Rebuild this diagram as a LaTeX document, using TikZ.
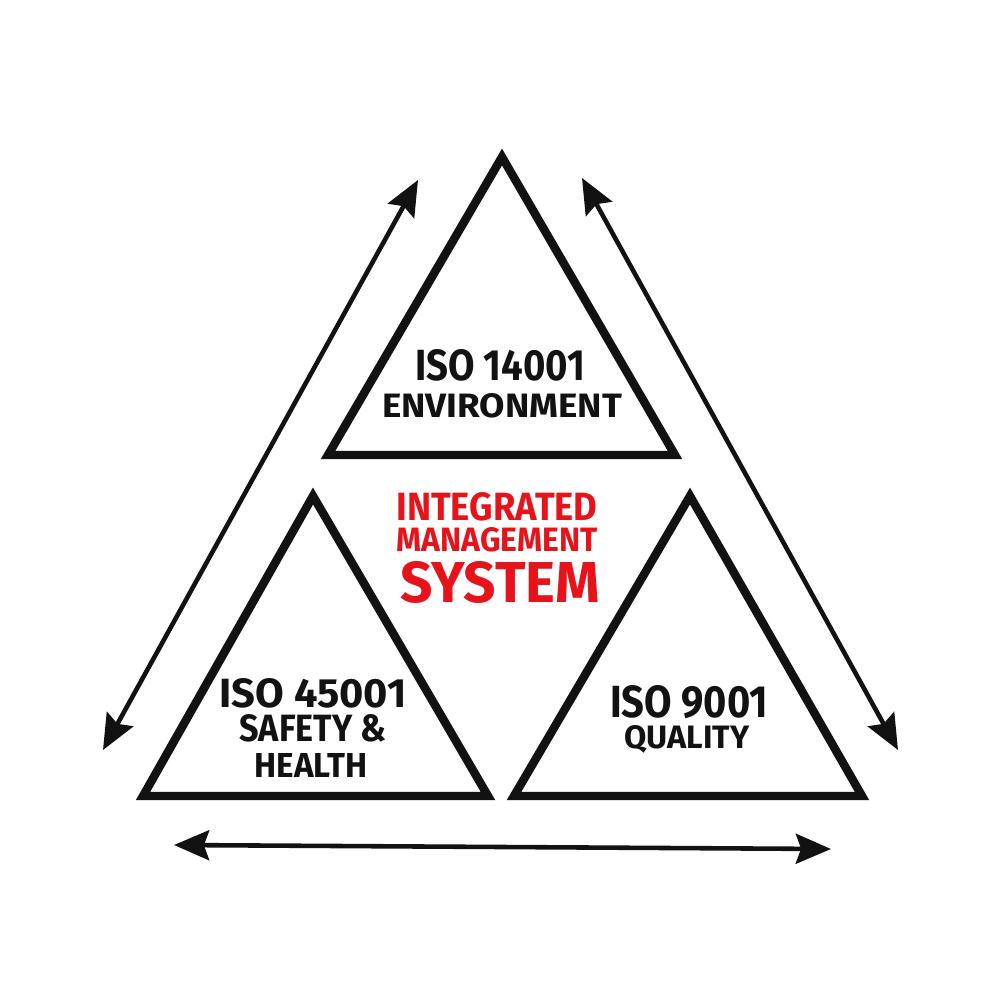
\documentclass[tikz,border=0pt]{standalone}
\usepackage{fontspec}
\setmainfont{Fira Sans}
\usepackage{graphicx}
\usepackage{xcolor}
\usetikzlibrary{arrows.meta}

\newlength{\px}\setlength{\px}{0.01cm}
\newcommand{\hand}[3]{\resizebox{#1\px}{#2\px}{#3}}

\definecolor{imsred}{RGB}{230,20,26}
\definecolor{ink}{RGB}{18,18,18}

\begin{document}
\begin{tikzpicture}[
  x=0.01cm, y=-0.01cm,
  >={Stealth[length=10pt,width=8.5pt,inset=1.5pt]},
  tri/.style={draw=ink, line width=2.4pt, line join=miter},
  dbl/.style={<->, draw=ink, line width=1.3pt},
  lbl/.style={anchor=base, inner sep=0pt, text=ink, font=\bfseries},
  ims/.style={lbl, text=imsred}
]
\useasboundingbox (0,0) rectangle (1000,1000);

% ==================== TRIANGLES ====================
\draw[tri] (502,157) -- (675,455) -- (328,455) -- cycle;
\draw[tri] (313,496) -- (488,796) -- (143,796) -- cycle;
\draw[tri] (690,496) -- (862,796) -- (514,796) -- cycle;

% top: environment
\node[lbl] (iso14) at (500,380) {\hand{170}{31}{ISO 14001}};
\node[lbl] (env)   at (502,417) {\hand{240}{24}{ENVIRONMENT}};

% bottom left: safety
\node[lbl] (iso45)  at (313,707) {\hand{187}{29}{ISO 45001}};
\node[lbl] (safety) at (313,741) {\hand{147}{27}{SAFETY \&}};
\node[lbl] (health) at (311,777) {\hand{113}{24}{HEALTH}};

% bottom right: quality
\node[lbl] (iso9)    at (689,717) {\hand{158}{32}{ISO 9001}};
\node[lbl] (quality) at (687,748) {\hand{125}{23}{QUALITY}};

% centre title
\node[ims] (integ) at (497,520) {\hand{201}{28}{INTEGRATED}};
\node[ims] (mgmt)  at (497,551) {\hand{201}{24}{MANAGEMENT}};
\node[ims] (sys)   at (500,602) {\hand{200}{41}{SYSTEM}};

% ==================== ARROWS ====================
\coordinate (lftA) at (103,750);
\coordinate (lftB) at (418,180);
\coordinate (rgtA) at (582,178);
\coordinate (rgtB) at (898,750);
\coordinate (botA) at (174,845);
\coordinate (botB) at (831,849);

\draw[dbl] (lftA) -- (lftB);
\draw[dbl] (rgtA) -- (rgtB);
\draw[dbl] (botA) -- (botB);

\end{tikzpicture}
\end{document}
